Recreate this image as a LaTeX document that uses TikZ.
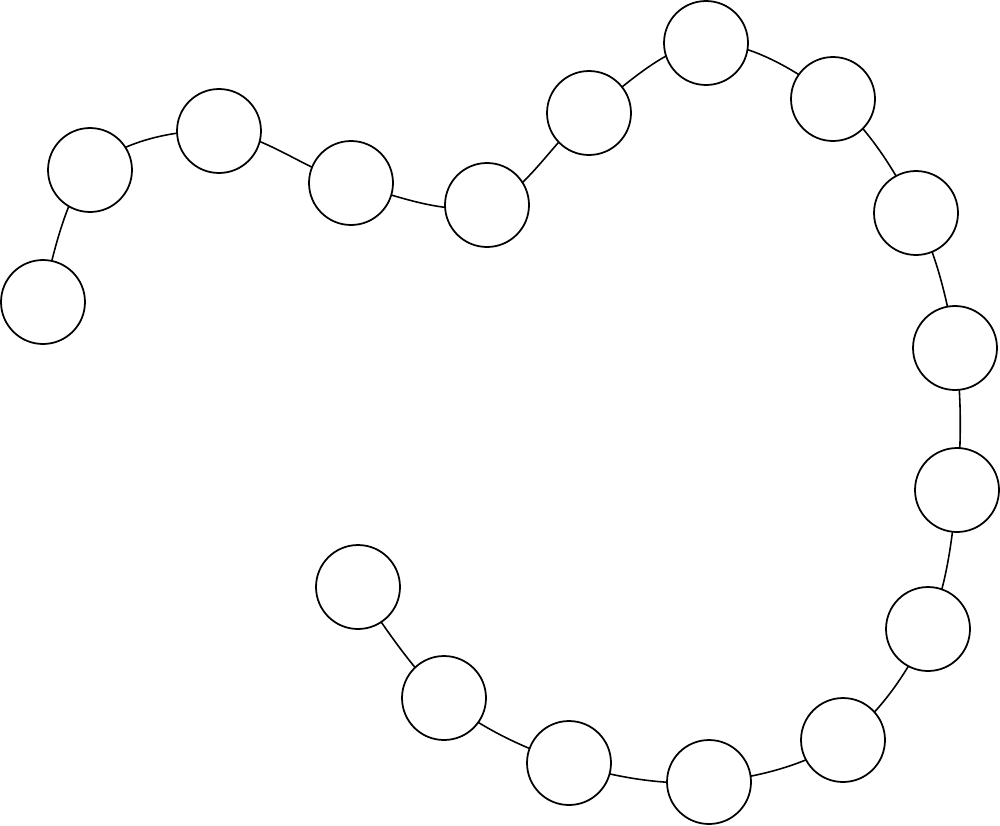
\documentclass[tikz,border=0pt]{standalone}
\usetikzlibrary{backgrounds}

\tikzset{
    bead/.style = {circle, draw, fill = white, line width = 1pt, minimum size = 1.68cm, inner sep = 0pt},
    thread/.style = {line width = 0.9pt}
}

\begin{document}
\begin{tikzpicture}[x = 0.02cm, y = -0.02cm]
        \useasboundingbox (0,0) rectangle (1000,825);

        \node (b1) at (43, 302) [bead] {};
        \node (b2) at (90, 170) [bead] {};
        \node (b3) at (219, 131) [bead] {};
        \node (b4) at (351, 183) [bead] {};
        \node (b5) at (487, 205) [bead] {};
        \node (b6) at (589, 113) [bead] {};
        \node (b7) at (706, 43) [bead] {};
        \node (b8) at (833, 99) [bead] {};
        \node (b9) at (916, 213) [bead] {};
        \node (b10) at (955, 348) [bead] {};
        \node (b11) at (957, 490) [bead] {};
        \node (b12) at (928, 629) [bead] {};
        \node (b13) at (843, 740) [bead] {};
        \node (b14) at (709, 782) [bead] {};
        \node (b15) at (569, 763) [bead] {};
        \node (b16) at (444, 698) [bead] {};
        \node (b17) at (358, 587) [bead] {};

        \begin{scope}[on background layer]
            \draw [thread] plot [smooth, tension = 0.6] coordinates {
                (b1) (b2) (b3) (b4) (b5) (b6) (b7) (b8) (b9)
                (b10) (b11) (b12) (b13) (b14) (b15) (b16) (b17)};
        \end{scope}
    \end{tikzpicture}
\end{document}
